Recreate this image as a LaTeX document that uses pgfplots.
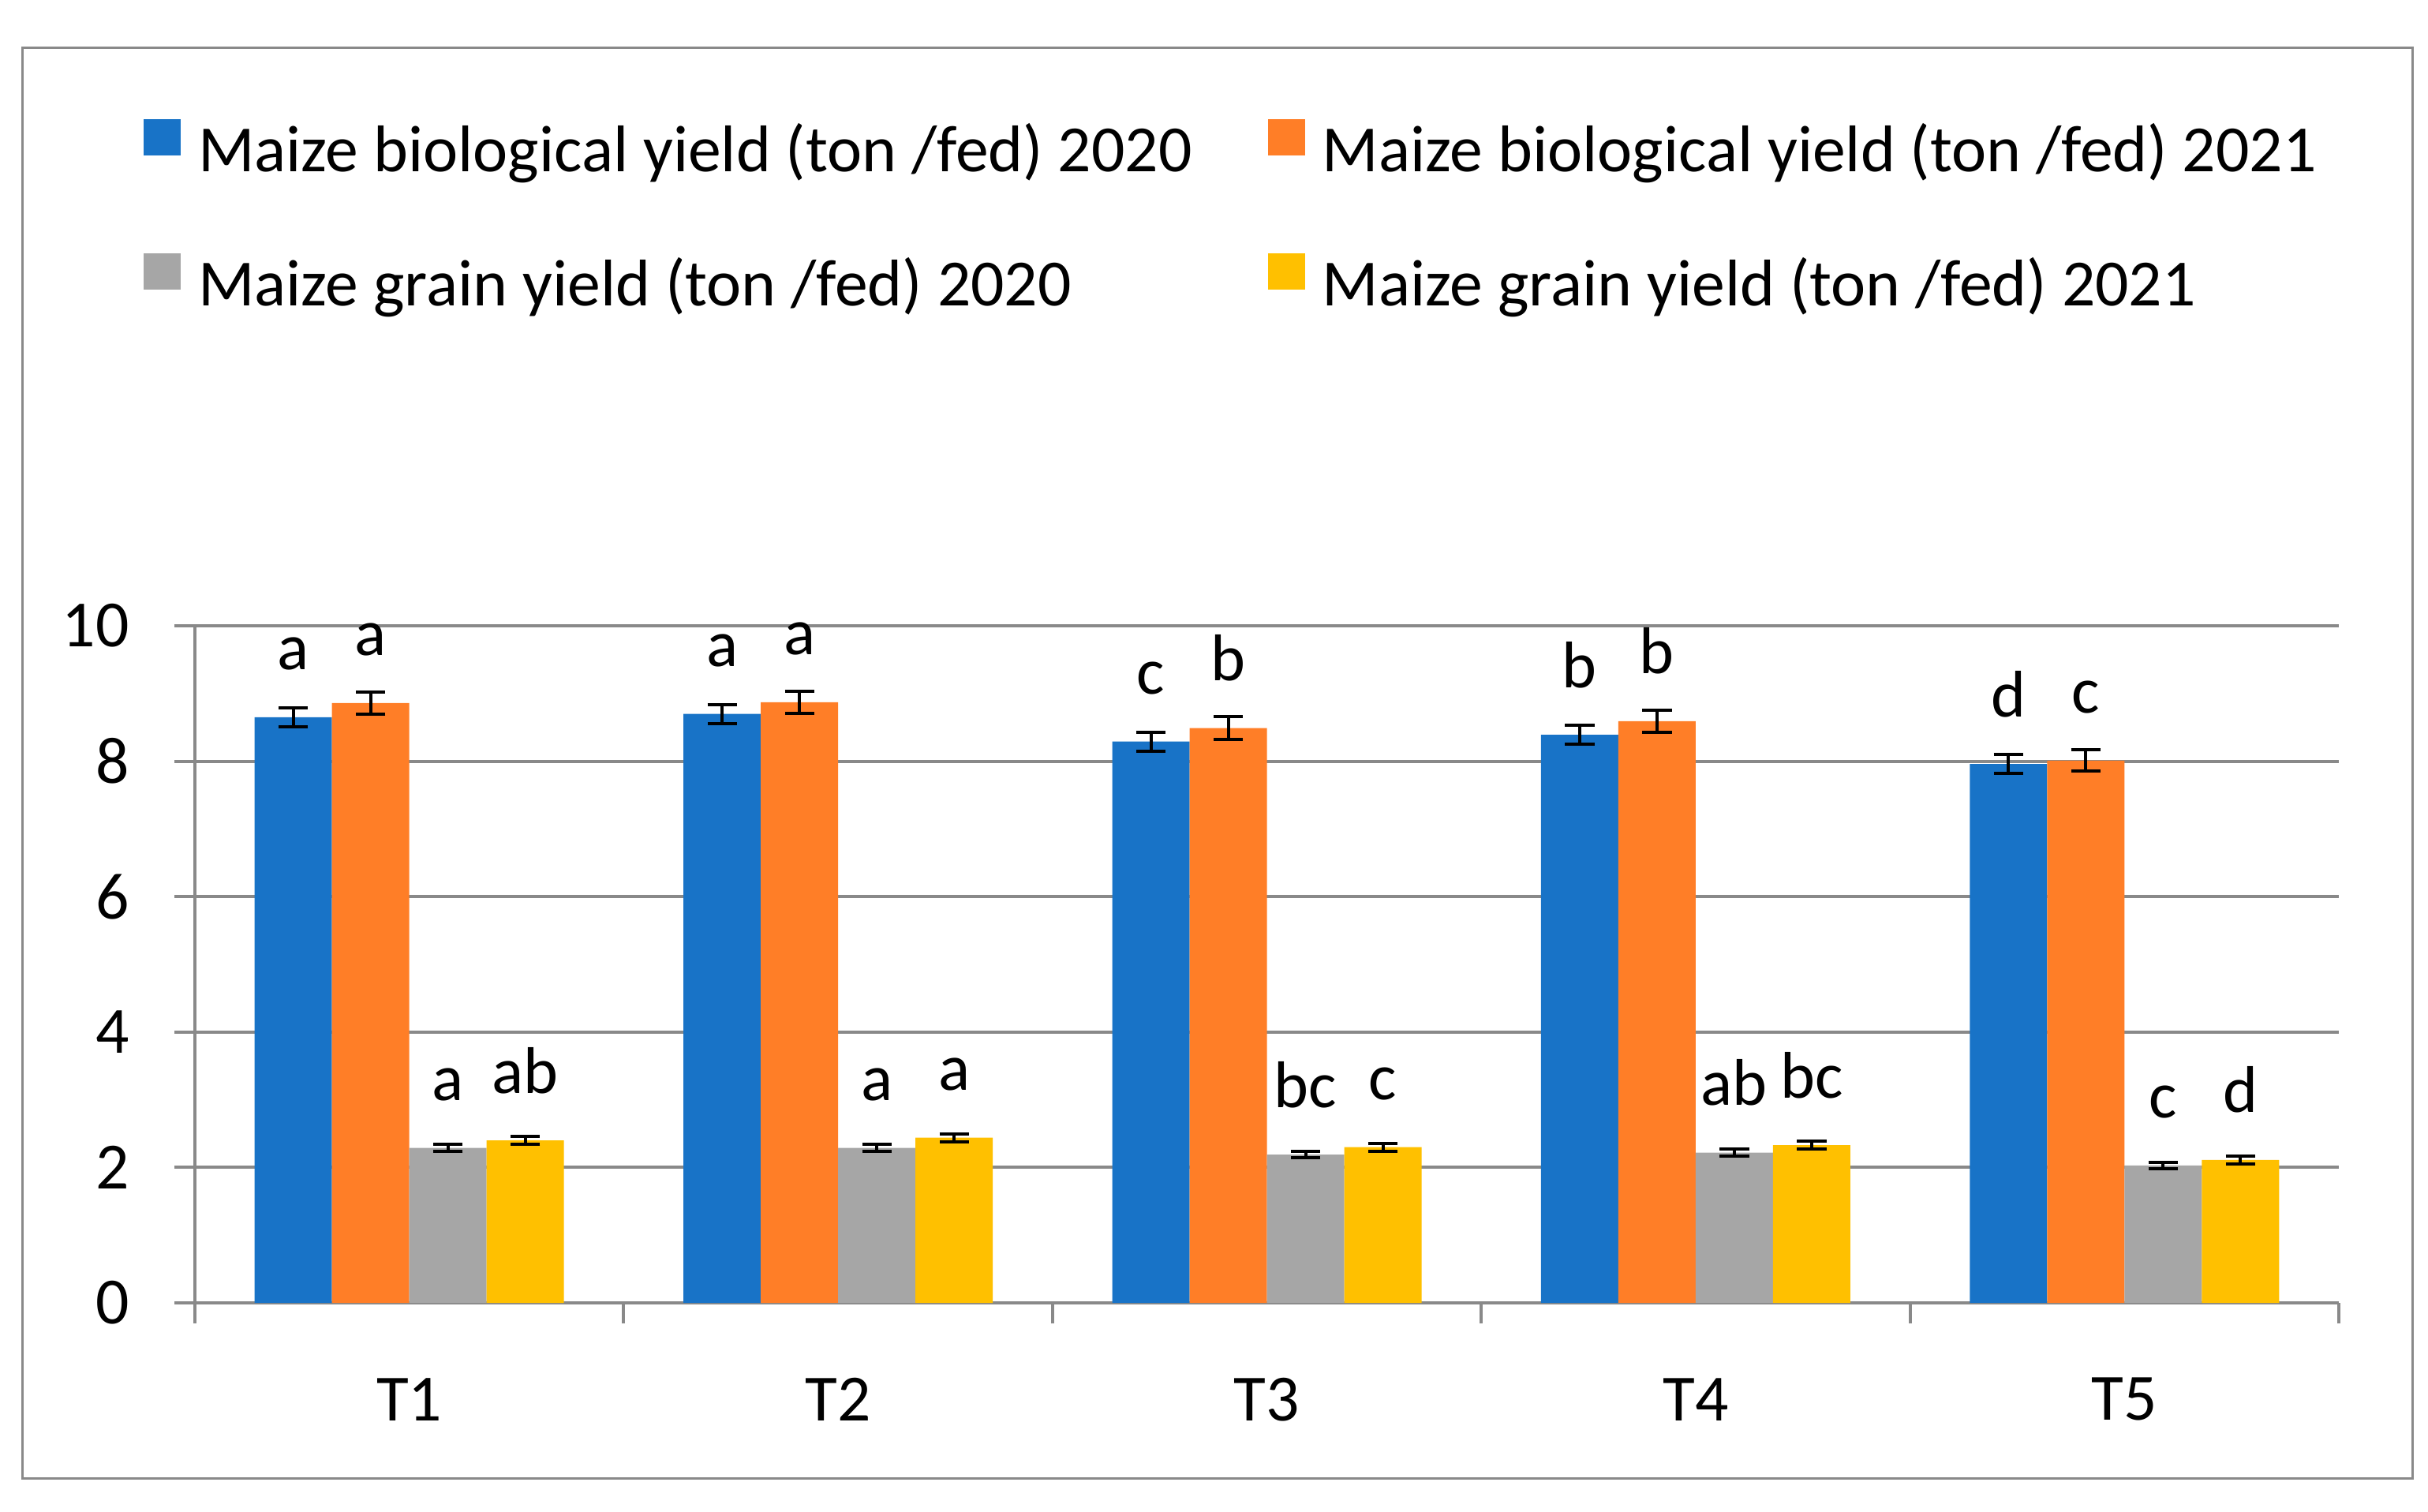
\documentclass[border=0pt]{standalone}
\usepackage{fontspec}
\setmainfont{Carlito}
\usepackage{pgfplots}
\usepackage{pgfplotstable}
\pgfplotsset{compat=1.18}

\definecolor{cblue}{RGB}{24,115,199}
\definecolor{corange}{RGB}{255,126,39}
\definecolor{cgray}{RGB}{166,166,166}
\definecolor{cyellow}{RGB}{255,192,0}
\definecolor{cline}{RGB}{137,137,137}

% treatment, mean, error, letter
\pgfplotstableread{
x y e l
1 8.65 0.14 a
2 8.70 0.14 a
3 8.29 0.14 c
4 8.39 0.14 b
5 7.96 0.14 d
}\bioA
\pgfplotstableread{
x y e l
1 8.86 0.16 a
2 8.87 0.16 a
3 8.49 0.17 b
4 8.59 0.16 b
5 8.01 0.16 c
}\bioB
\pgfplotstableread{
x y e l
1 2.29 0.05 a
2 2.29 0.05 a
3 2.19 0.05 bc
4 2.22 0.05 ab
5 2.03 0.05 c
}\grainA
\pgfplotstableread{
x y e l
1 2.40 0.06 ab
2 2.44 0.06 a
3 2.30 0.06 c
4 2.33 0.06 bc
5 2.11 0.06 d
}\grainB

\begin{document}
\begin{tikzpicture}
\fontsize{11.9}{13.5}\selectfont
\useasboundingbox (0,0) rectangle (153.85mm,95.75mm);
\draw[cline, line width=0.15mm] (1.4mm,2.1mm) rectangle (152.85mm,92.7mm);
\begin{axis}[
    at={(12.35mm,13.2mm)}, anchor=south west,
    scale only axis,
    width=135.85mm, height=42.9mm,
    ybar=0pt, bar width=4.9mm,
    xmin=0.5, xmax=5.5,
    ymin=0, ymax=10,
    ytick={0,2,...,10},
    xtick={0.5,1.5,...,5.5},
    xticklabels={},
    extra x ticks={1,2,3,4,5},
    extra x tick labels={T1,T2,T3,T4,T5},
    extra x tick style={major tick length=0pt, xticklabel style={yshift=-3.3mm}},
    axis x line*=bottom, axis y line*=left,
    axis line style={cline, line width=0.2mm},
    tick style={cline, line width=0.2mm},
    major tick length=1.3mm,
    tick align=outside,
    ymajorgrids,
    grid style={cline, line width=0.2mm},
    yticklabel style={xshift=-1.4mm},
    /pgf/number format/assume math mode=true,
    tick label style={font=\fontsize{11.9}{13.5}\selectfont},
    clip=false,
    nodes near coords,
    point meta=explicit symbolic,
    every node near coord/.append style={anchor=base, yshift=3.0mm, text=black,
        font=\fontsize{11.9}{13.5}\selectfont},
    error bars/error bar style={black, line width=0.2mm},
    error bars/error mark options={rotate=90, mark size=0.93mm, line width=0.2mm, black},
    legend columns=2,
    legend style={at={(0,0)}, anchor=north west, xshift=-3.25mm, yshift=75.0mm,
        draw=none, fill=none, inner sep=0pt, outer sep=0pt,
        column sep=0pt, row sep=4.1mm,
        nodes={inner sep=0pt, text height=3.1mm, text depth=1.1mm, anchor=west},
        font=\fontsize{11.9}{13.5}\selectfont},
    legend image code/.code={\fill[#1, draw=none] (0mm,0mm) rectangle (2.35mm,2.3mm);
        \path (3.45mm,0mm);},
]
\addplot[fill=cblue, draw=none, error bars/.cd, y dir=both, y explicit]
    table[x=x, y=y, y error=e, meta=l] {\bioA};
\addlegendentry{\makebox[67.8mm][l]{Maize biological yield (ton /fed) 2020}}
\addplot[fill=corange, draw=none, error bars/.cd, y dir=both, y explicit]
    table[x=x, y=y, y error=e, meta=l] {\bioB};
\addlegendentry{Maize biological yield (ton /fed) 2021}
\addplot[fill=cgray, draw=none, error bars/.cd, y dir=both, y explicit]
    table[x=x, y=y, y error=e, meta=l] {\grainA};
\addlegendentry{\makebox[67.8mm][l]{Maize grain yield (ton /fed) 2020}}
\addplot[fill=cyellow, draw=none, error bars/.cd, y dir=both, y explicit]
    table[x=x, y=y, y error=e, meta=l] {\grainB};
\addlegendentry{Maize grain yield (ton /fed) 2021}
\end{axis}
\end{tikzpicture}
\end{document}
